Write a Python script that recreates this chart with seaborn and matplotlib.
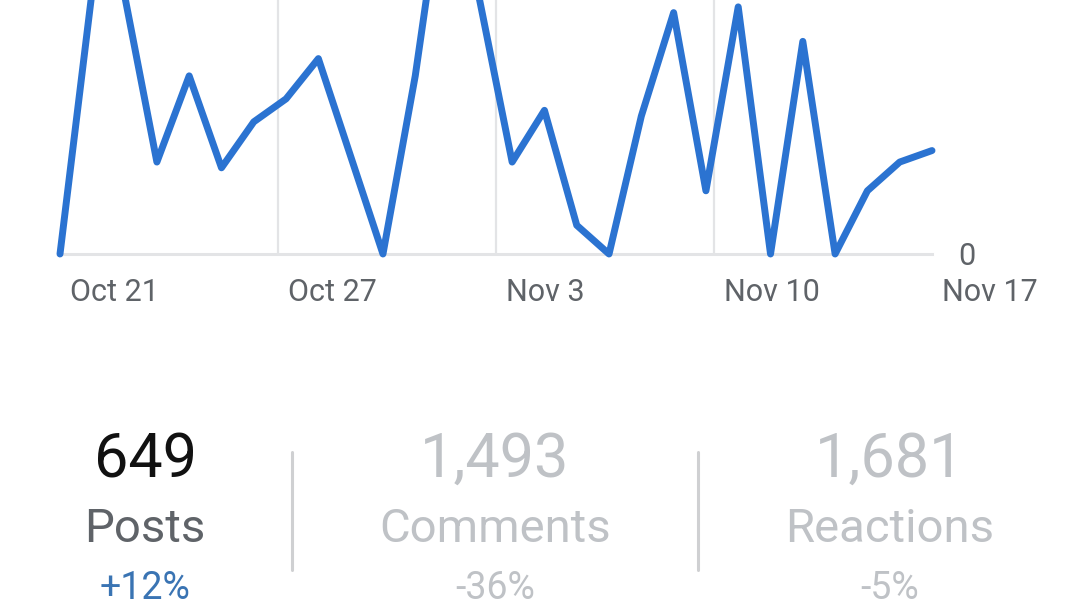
import numpy as np
import pandas as pd
import matplotlib.pyplot as plt
import matplotlib.transforms as mtransforms
from matplotlib.lines import Line2D
import seaborn as sns

# Daily posts, Oct 21 - Nov 17
posts = [0, 46, 45, 16, 31, 15, 23, 27, 34, 17, 0, 31, 70, 44,
         16, 25, 5, 0, 24, 42, 11, 43, 0, 37, 0, 11, 16, 18]
tick_labels = ["Oct 21", "Oct 27", "Nov 3", "Nov 10", "Nov 17"]

# Summary numbers under the chart
stat_values = ["649", "1,493", "1,681"]
stat_names = ["Posts", "Comments", "Reactions"]
stat_changes = ["+12%", "-36%", "-5%"]

df = pd.DataFrame({"day": np.arange(len(posts)), "posts": posts})

sns.set_theme(style="white")
plt.rcParams["font.family"] = ["Roboto", "DejaVu Sans"]

W, H = 1080, 607
fig = plt.figure(figsize=(W / 100, H / 100), dpi=100)
fig.patch.set_facecolor("white")

# chart area: x 60..932 px, baseline at 254 px, top cut off by the screen
ax = fig.add_axes([60 / W, 1 - 254 / H, (932 - 60) / W, 254 / H])
sns.lineplot(data=df, x="day", y="posts", ax=ax, color="#2b73d1",
             linewidth=5, clip_on=False, zorder=3)

ax.set_xlim(0, len(posts) - 1)
ax.set_ylim(0, 44.2)
ax.set_xlabel("")
ax.set_ylabel("")

ticks = np.linspace(0, len(posts) - 1, len(tick_labels))
ax.set_xticks(ticks, tick_labels)
ax.tick_params(axis="x", length=0, pad=17, labelsize=22, labelcolor="#5f6368")
offset = mtransforms.ScaledTranslation(10 / 100, 0, fig.dpi_scale_trans)
for lab in ax.get_xticklabels():
    lab.set_horizontalalignment("left")
    lab.set_transform(lab.get_transform() + offset)

ax.yaxis.tick_right()
ax.set_yticks([0])
ax.tick_params(axis="y", length=0, pad=19, labelsize=22, labelcolor="#5f6368")

for side in ["top", "left", "right"]:
    ax.spines[side].set_visible(False)
ax.spines["bottom"].set_color("#e3e4e6")
ax.spines["bottom"].set_linewidth(2.2)
ax.vlines(ticks[1:-1], 0, 1, transform=ax.get_xaxis_transform(),
          color="#e3e4e6", linewidth=1.6, zorder=0)

# summary block
centers = [145, 495, 890]
value_colors = ["#111111", "#bfc2c6", "#bfc2c6"]
name_colors = ["#5f6368", "#bfc2c6", "#bfc2c6"]
change_colors = ["#3a74b3", "#bfc2c6", "#bfc2c6"]
for i, cx in enumerate(centers):
    x = cx / W
    fig.text(x, 1 - 477 / H, stat_values[i], ha="center", va="baseline",
             fontsize=44, color=value_colors[i])
    fig.text(x, 1 - 542 / H, stat_names[i], ha="center", va="baseline",
             fontsize=34, color=name_colors[i])
    fig.text(x, 1 - 599 / H, stat_changes[i], ha="center", va="baseline",
             fontsize=27, color=change_colors[i])

for sx in [292, 698]:
    fig.add_artist(Line2D([sx / W, sx / W], [1 - 452 / H, 1 - 570 / H],
                          transform=fig.transFigure, color="#cfd0d2",
                          linewidth=2.2))

fig.savefig("out.png", dpi=100, facecolor="white")
